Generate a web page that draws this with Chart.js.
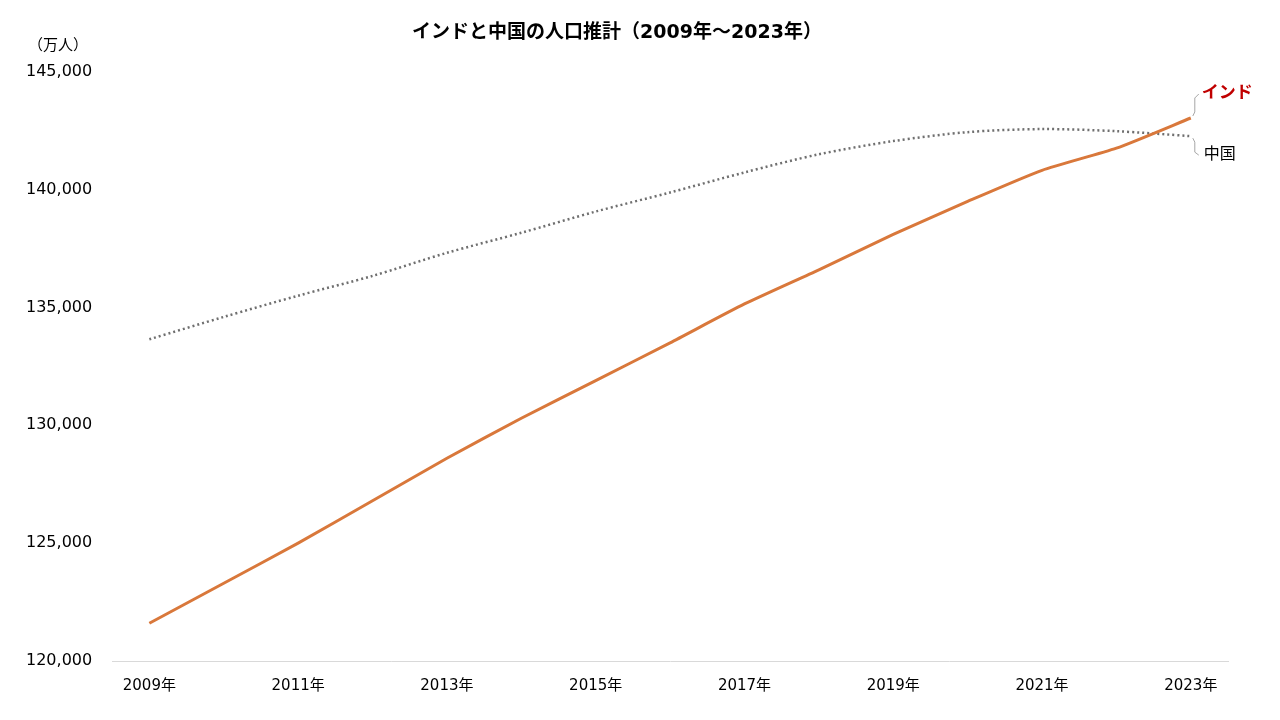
<!DOCTYPE html>
<html><head><meta charset="utf-8">
<script src="https://cdn.jsdelivr.net/npm/chart.js@4.4.1/dist/chart.umd.min.js"></script>
<style>
html,body{margin:0;background:#fff;}
#wrap{position:relative;width:1280px;height:720px;}
</style></head>
<body><div id="wrap"><canvas id="c" width="1280" height="720"></canvas></div>
<script>
const years = ['2009','2010','2011','2012','2013','2014','2015','2016','2017','2018','2019','2020','2021','2022','2023'];
const india = [121600,123300,125000,126800,128600,130300,131900,133500,135150,136600,138100,139500,140820,141760,143040];
const china = [133650,134600,135500,136340,137320,138170,139070,139880,140730,141500,142060,142440,142570,142480,142270];

const FONT = '"DejaVu Sans", "Noto Sans CJK JP", sans-serif';

const sideLabels = {
  id: 'sideLabels',
  afterDraw(chart) {
    const { ctx, scales: { x, y } } = chart;
    const xe = x.getPixelForValue(years.length - 1);
    const yi = y.getPixelForValue(india[india.length - 1]);
    const yc = y.getPixelForValue(china[china.length - 1]);
    ctx.save();
    ctx.strokeStyle = '#a6a6a6'; ctx.lineWidth = 1;
    ctx.beginPath();
    ctx.moveTo(xe + 2, yi - 2); ctx.lineTo(xe + 4, yi - 6); ctx.lineTo(xe + 4, yi - 20); ctx.lineTo(xe + 8, yi - 24);
    ctx.moveTo(xe + 2, yc + 2); ctx.lineTo(xe + 4, yc + 6); ctx.lineTo(xe + 4, yc + 16); ctx.lineTo(xe + 8, yc + 19);
    ctx.stroke();
    ctx.textBaseline = 'middle'; ctx.textAlign = 'left';
    ctx.font = 'bold 17px ' + FONT; ctx.fillStyle = '#c00000';
    ctx.fillText('インド', xe + 11, yi - 24);
    ctx.font = '16px ' + FONT; ctx.fillStyle = '#000';
    ctx.fillText('中国', xe + 13, yc + 19);
    ctx.font = '15px ' + FONT;
    ctx.fillText('（万人）', 28, 46);
    ctx.restore();
  }
};

new Chart(document.getElementById('c').getContext('2d'), {
  type: 'line',
  data: {
    labels: years,
    datasets: [
      { label: 'インド', data: india, borderColor: '#d9783b', borderWidth: 3, pointRadius: 0, tension: 0.2 },
      { label: '中国', data: china, borderColor: '#6f6f6f', borderWidth: 2.5, borderDash: [2, 3], pointRadius: 0, tension: 0.3 }
    ]
  },
  options: {
    responsive: false, animation: false,
    layout: { padding: { top: 4, right: 52, left: 6, bottom: 9 } },
    plugins: {
      legend: { display: false }, tooltip: { enabled: false },
      title: { display: true, text: 'インドと中国の人口推計（2009年～2023年）', color: '#000',
        font: { family: FONT, size: 19, weight: 'bold' }, padding: { top: 18, bottom: 27 } }
    },
    scales: {
      x: {
        offset: true,
        grid: { display: false, drawTicks: false },
        border: { color: '#d9d9d9' },
        ticks: { autoSkip: false, maxRotation: 0, color: '#000', padding: 16, font: { family: FONT, size: 15 },
          callback: (v, i) => (i % 2 === 0 ? years[i] + '年' : '') }
      },
      y: {
        min: 120000, max: 145000,
        grid: { display: false, drawTicks: false },
        border: { display: false },
        ticks: { stepSize: 5000, color: '#000', padding: 20, font: { family: FONT, size: 16 },
          callback: v => v.toLocaleString('en-US') }
      }
    }
  },
  plugins: [sideLabels]
});
</script></body></html>
